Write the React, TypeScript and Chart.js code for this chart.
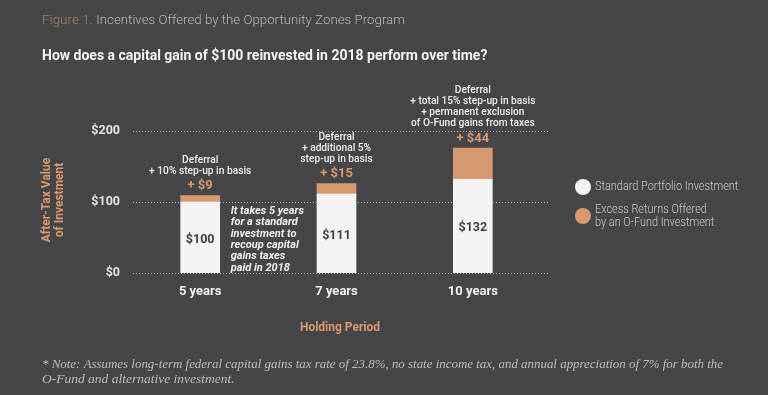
import React, { useEffect, useRef } from 'react';
import { Chart, registerables } from 'chart.js';

Chart.register(...registerables);

const W = 768;
const H = 395;
const BG = '#464648';
const ORANGE = '#d8996f';
const WHITE = '#f3f3f3';
const SANS = 'Roboto, "Noto Sans", sans-serif';

const categories = ['5 years', '7 years', '10 years'];
const standardValues = [100, 111, 132];
const excessValues = [9, 15, 44];
const yTickValues = [0, 100, 200];
const annotations = [
  ['Deferral', '+ 10% step-up in basis'],
  ['Deferral', '+ additional 5%', 'step-up in basis'],
  ['Deferral', '+ total 15% step-up in basis', '+ permanent exclusion', 'of O-Fund gains from taxes'],
];
const calloutLines = ['It takes 5 years', 'for a standard', 'investment to', 'recoup capital', 'gains taxes', 'paid in 2018'];
const legendLabels = [['Standard Portfolio Investment'], ['Excess Returns Offered', 'by an O-Fund Investment']];
const legendColors = [WHITE, ORANGE];
const titleLead = 'Figure 1.';
const titleRest = 'Incentives Offered by the Opportunity Zones Program';
const subtitle = 'How does a capital gain of $100 reinvested in 2018 perform over time?';
const yTitle = ['After-Tax Value', 'of Investment'];
const xTitle = 'Holding Period';
const noteLines = [
  '* Note: Assumes long-term federal capital gains tax rate of 23.8%, no state income tax, and annual appreciation of 7% for both the',
  'O-Fund and alternative investment.',
];

const decor = {
  id: 'decor',
  beforeDraw(chart: any) {
    const ctx = chart.ctx;
    ctx.save();
    ctx.fillStyle = BG;
    ctx.fillRect(0, 0, chart.width, chart.height);
    ctx.restore();
  },
  beforeDatasetsDraw(chart: any) {
    const { ctx, chartArea, scales } = chart;
    ctx.save();
    ctx.strokeStyle = '#b4b4b4';
    ctx.lineWidth = 1;
    ctx.setLineDash([1, 2]);
    yTickValues.forEach((v) => {
      const py = Math.round(scales.y.getPixelForValue(v)) + 0.5;
      ctx.beginPath();
      ctx.moveTo(chartArea.left + 1, py);
      ctx.lineTo(chartArea.right + 8, py);
      ctx.stroke();
    });
    ctx.restore();
  },
  afterDatasetsDraw(chart: any) {
    const ctx = chart.ctx;
    const m0 = chart.getDatasetMeta(0);
    const m1 = chart.getDatasetMeta(1);
    ctx.save();
    ctx.textAlign = 'center';
    ctx.textBaseline = 'middle';
    categories.forEach((_, i) => {
      const b0 = m0.data[i];
      const b1 = m1.data[i];
      const x = b0.x;
      ctx.fillStyle = '#3f3f41';
      ctx.font = `bold 12.5px ${SANS}`;
      ctx.fillText('$' + standardValues[i], x, (b0.y + b0.base) / 2 + 2);
      const plusY = b1.y - 9.5;
      ctx.fillStyle = ORANGE;
      ctx.font = `bold 13px ${SANS}`;
      ctx.fillText('+ $' + excessValues[i], x, plusY);
      const lines = annotations[i];
      ctx.fillStyle = '#ececec';
      ctx.font = `500 10.2px ${SANS}`;
      const last = plusY - 15;
      lines.forEach((t, k) => {
        ctx.fillText(t, x, last - (lines.length - 1 - k) * 11);
      });
    });
    const first = m0.data[0];
    const cx = first.x + first.width / 2 + 11;
    const cy = chart.scales.y.getPixelForValue(100) + 9;
    ctx.textAlign = 'left';
    ctx.fillStyle = '#efefef';
    ctx.font = `italic bold 11px ${SANS}`;
    calloutLines.forEach((t, k) => ctx.fillText(t, cx, cy + k * 11.4));
    ctx.restore();
  },
  afterDraw(chart: any) {
    const ctx = chart.ctx;
    ctx.save();
    ctx.textBaseline = 'alphabetic';
    ctx.textAlign = 'left';
    ctx.font = `300 13.5px ${SANS}`;
    ctx.fillStyle = '#b07c66';
    ctx.fillText(titleLead, 42, 24);
    const lw = ctx.measureText(titleLead + ' ').width;
    ctx.fillStyle = '#b8b8b8';
    ctx.fillText(titleRest, 42 + lw, 24, 405 - 42 - lw);
    ctx.font = `bold 14px ${SANS}`;
    ctx.fillStyle = '#f4f4f4';
    ctx.fillText(subtitle, 42, 60, 448);
    ctx.textBaseline = 'middle';
    ctx.textAlign = 'center';
    ctx.fillStyle = ORANGE;
    ctx.font = `bold 12px ${SANS}`;
    yTitle.forEach((t, k) => {
      ctx.save();
      ctx.translate(47 + k * 13, 200);
      ctx.rotate(-Math.PI / 2);
      ctx.fillText(t, 0, 0);
      ctx.restore();
    });
    ctx.fillText(xTitle, 340, 328);
    ctx.textAlign = 'left';
    ctx.font = `300 12px ${SANS}`;
    const rows = [[187], [210, 223]];
    const dots = [187, 216];
    legendLabels.forEach((lines, k) => {
      ctx.fillStyle = legendColors[k];
      ctx.beginPath();
      ctx.arc(583, dots[k], 8, 0, Math.PI * 2);
      ctx.fill();
      ctx.fillStyle = '#c9c9c9';
      lines.forEach((t, j) => {
        const w = ctx.measureText(t).width;
        ctx.fillText(t, 595, rows[k][j], w * 0.91);
      });
    });
    ctx.font = `italic 13.5px "Liberation Serif", serif`;
    ctx.fillStyle = '#bdbdbd';
    ctx.fillText(noteLines[0], 42, 364, 681);
    ctx.fillText(noteLines[1], 42, 379, 300);
    ctx.restore();
  },
};

export default function App() {
  const ref = useRef<HTMLCanvasElement | null>(null);
  useEffect(() => {
    document.body.style.margin = '0';
    document.body.style.background = BG;
    const canvas = ref.current;
    if (!canvas) return;
    const chart = new Chart(canvas, {
      type: 'bar',
      data: {
        labels: categories,
        datasets: [
          { label: 'Standard Portfolio Investment', data: standardValues, backgroundColor: WHITE, barThickness: 39, borderWidth: 0 },
          { label: 'Excess Returns Offered by an O-Fund Investment', data: excessValues, backgroundColor: ORANGE, barThickness: 39, borderWidth: 0 },
        ],
      },
      options: {
        responsive: false,
        animation: false,
        devicePixelRatio: 1,
        layout: { padding: { left: 60, right: W - 541, top: 131, bottom: 92 } },
        plugins: {
          legend: { display: false },
          tooltip: { enabled: false },
          title: { display: false },
        },
        scales: {
          x: {
            stacked: true,
            grid: { display: false, drawTicks: false },
            border: { display: false },
            ticks: { color: '#f0f0f0', font: { family: SANS, size: 13, weight: 'bold' }, padding: 11 },
            afterFit: (s: any) => { s.height = 30; },
          },
          y: {
            stacked: true,
            min: 0,
            max: 200,
            grid: { display: false, drawTicks: false },
            border: { display: false },
            ticks: {
              stepSize: 100,
              color: '#e2e2e2',
              font: { family: SANS, size: 12.5, weight: 'bold' },
              padding: 12,
              callback: (v: any) => '$' + v,
            },
            afterFit: (s: any) => { s.width = 72; },
          },
        },
      },
      plugins: [decor],
    } as any);
    return () => chart.destroy();
  }, []);
  return (
    <div style={{ width: W, height: H, background: BG }}>
      <canvas ref={ref} width={W} height={H} style={{ display: 'block' }} />
    </div>
  );
}
